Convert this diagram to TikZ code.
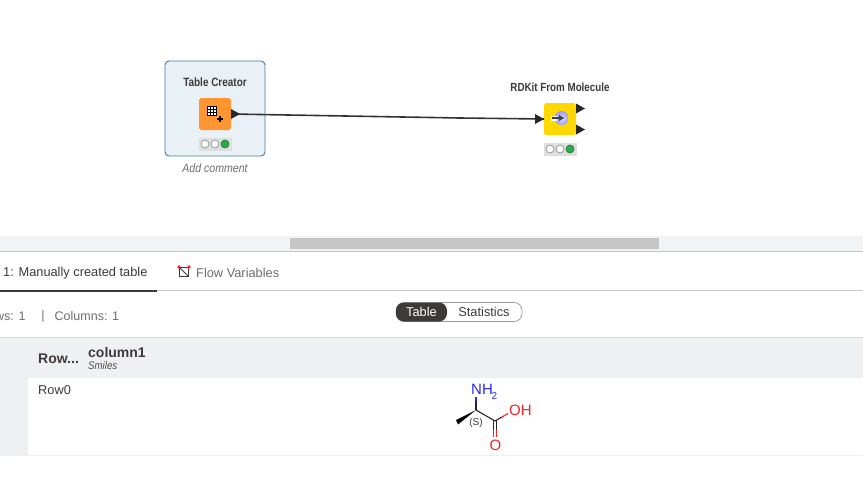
\documentclass[tikz,border=0pt]{standalone}
\usepackage{fontspec}
\setmainfont{Liberation Sans}
\newfontface\condbold[FakeStretch=0.83]{Liberation Sans Bold}
\newfontface\condital[FakeStretch=0.88]{Liberation Sans Italic}
\definecolor{txt}{HTML}{3E3A39}
\definecolor{graytxt}{HTML}{6E6E6E}
\definecolor{bandgray}{HTML}{EFF0F2}
\definecolor{rulegray}{HTML}{C6C6C6}
\definecolor{selfill}{HTML}{E9F1F6}
\definecolor{selline}{HTML}{3F7FA8}
\definecolor{nodeorange}{HTML}{FF9632}
\definecolor{nodeyellow}{HTML}{FFD800}
\definecolor{lightgreen}{HTML}{2EA84A}
\definecolor{tlbg}{HTML}{DDE0DF}
\definecolor{molblue}{HTML}{2A2AF0}
\definecolor{molred}{HTML}{F4222A}
\usetikzlibrary{arrows.meta}
\tikzset{
  title/.style={font=\condbold\fontsize{12}{14}\selectfont,text=txt,inner sep=0pt},
  uilabel/.style={font=\fontsize{12.8}{15}\selectfont,text=txt,inner sep=0pt},
  graylabel/.style={font=\fontsize{12.8}{15}\selectfont,text=graytxt,inner sep=0pt},
  countlabel/.style={font=\fontsize{12.5}{15}\selectfont,text=graytxt,inner sep=0pt},
  nodebody/.style={rounded corners=2.5pt,minimum width=32pt,minimum height=32pt,inner sep=0pt,draw=none},
  tlbox/.style={fill=tlbg,minimum width=33pt,minimum height=13pt,inner sep=0pt,draw=none},
  lamp/.style={circle,draw=gray!80,line width=.8pt,minimum size=8pt,inner sep=0pt,fill=white},
  port/.style={fill=black!85,draw=none},
  bond/.style={line width=1.1pt,draw=black!85},
  atom/.style={font=\fontsize{15}{16}\selectfont,inner sep=0pt},
}
\newcommand{\lights}[2]{%
  \node[tlbox] (#1) at (#2) {};
  \node[lamp] (#1a) at ([xshift=-10pt]#1.center) {};
  \node[lamp] (#1b) at (#1.center) {};
  \node[lamp,fill=lightgreen,draw=lightgreen!80!black] (#1c) at ([xshift=10pt]#1.center) {};
}
\begin{document}
\begin{tikzpicture}[x=1pt,y=-1pt]
\useasboundingbox (0,0) rectangle (863,501);
\fill[white] (0,0) rectangle (863,501);

% selected node frame
\node[draw=selline,fill=selfill,line width=.9pt,rounded corners=4pt,minimum width=100pt,minimum height=95pt,inner sep=0pt] (frame) at (215,108.5) {};
\node[title] (t1) at (215,82) {Table Creator};
\node[nodebody,fill=nodeorange] (tc) at (215,114) {};
\node[draw=black,fill=white,line width=.7pt,minimum size=9.5pt,inner sep=0pt] (grid) at (212,111) {};
\foreach \d in {-1.6,1.6}{
  \draw[black,line width=.8pt] ([xshift=\d pt,yshift=-4.75pt]grid.center) -- ([xshift=\d pt,yshift=4.75pt]grid.center);
  \draw[black,line width=.8pt] ([xshift=-4.75pt,yshift=\d pt]grid.center) -- ([xshift=4.75pt,yshift=\d pt]grid.center);
}
\draw[black,line width=1.7pt] (217,119) -- (223,119) (220,116) -- (220,122);
\lights{tl1}{215,144}
\node[font=\condital\fontsize{12}{14}\selectfont,text=graytxt,inner sep=0pt] (cmt) at (215,168) {Add comment};

% second node
\node[title,font=\condbold\fontsize{11.8}{14}\selectfont] (t2) at (560,87) {RDKit From Molecule};
\node[nodebody,fill=nodeyellow] (rd) at (560,119) {};
\shade[inner color=blue!12!white,outer color=blue!40!white] (561.7,118) circle (7pt);
\fill[white] (551,115.5) rectangle (557,120.5);
\draw[black!75,line width=1.7pt,-{Latex[length=5.5pt,width=7pt]}] (552,118) -- (564.5,118);
\lights{tl2}{560,149}

% ports
\coordinate (outp) at (231,114);
\coordinate (inp) at (544,119);
\draw[black!80,line width=1.6pt] (outp) -- (460,118) -- (inp);
\fill[port] (outp) ++(0,-5) -- ++(9,5) -- ++(-9,5) -- cycle;
\fill[port] (576,103.5) -- ++(9,5) -- ++(-9,5) -- cycle;
\fill[port] (576,124.5) -- ++(9,5) -- ++(-9,5) -- cycle;
\fill[port] (535,114) -- ++(9,5) -- ++(-9,5) -- cycle;

% scroll bar
\fill[bandgray!80!white] (0,236) rectangle (863,250.5);
\fill[rulegray] (290,238) rectangle (659,249);
\draw[rulegray,line width=1pt] (0,251) -- (863,251);

% tabs
\node[uilabel,anchor=west] (tab1) at (3,273) {1: Manually created table};
\draw[rulegray,line width=1pt] (0,290.5) -- (863,290.5);
\fill[txt] (0,289.5) rectangle (157,292);
\node[graylabel,anchor=west] (tab2) at (196,273) {Flow Variables};
\draw[txt,line width=.9pt] (179.5,267.5) -- (188.5,267.5) -- (188.5,276.5) -- (179.5,276.5) -- cycle (179.5,267.5) -- (188.5,276.5);
\fill[molred] (179,267) circle (1.9pt) (189,267) circle (1.9pt);

% counts
\node[countlabel,anchor=west] (rows) at (-5,316.5) {ws: 1};
\node[countlabel] (sep) at (43,316.5) {|};
\node[countlabel,anchor=west] (cols) at (54.5,316.5) {Columns: 1};

% toggle
\node[draw=gray!80,fill=white,rounded corners=8pt,minimum width=126pt,minimum height=19pt,inner sep=0pt,line width=.7pt] (toggle) at (459,312) {};
\fill[txt,rounded corners=8pt] (396,302.5) rectangle (447,321.5);
\node[font=\fontsize{12.8}{15}\selectfont,text=white,inner sep=0pt] (tbl) at (421.5,312) {Table};
\node[uilabel] (stat) at (484,312) {Statistics};

% table
\fill[bandgray] (0,337) rectangle (863,378);
\draw[rulegray!70!white,line width=.7pt] (0,337) -- (863,337);
\fill[bandgray] (0,378) rectangle (28,455);
\draw[bandgray,line width=1.8pt] (0,455.5) -- (863,455.5);
\node[font=\bfseries\fontsize{14}{16}\selectfont,text=txt,inner sep=0pt,anchor=west] (rowh) at (38,358.5) {Row...};
\node[font=\bfseries\fontsize{14}{16}\selectfont,text=txt,inner sep=0pt,anchor=west] (colh) at (88,352) {column1};
\node[font=\condital\fontsize{11}{13}\selectfont,text=graytxt!70!black,inner sep=0pt,anchor=west] (smi) at (88,365.5) {Smiles};
\node[uilabel,anchor=west] (row0) at (38,390) {Row0};

% molecule
\node[atom,text=molblue,anchor=west] (nh) at (471,389) {NH};
\node[font=\fontsize{10}{10}\selectfont,text=molblue,inner sep=0pt] (sub2) at (494.5,396) {2};
\node[atom,text=molred,anchor=west] (oh) at (509,410.5) {OH};
\node[atom,text=molred] (oo) at (495.5,445) {O};
\node[font=\fontsize{10}{11}\selectfont,text=txt,inner sep=0pt] (st) at (476,422.5) {(S)};
\coordinate (ca) at (476,410);
\coordinate (cc) at (495,421);
\fill[black] (ca) -- (456,420) -- (458,424.5) -- cycle;
\draw[bond] (ca) -- (476,401);
\draw[molblue,line width=1.1pt] (476,401) -- (476,396.5);
\draw[bond] (ca) -- (cc) -- (502,417);
\draw[molred,line width=1.1pt] (502,417) -- (508,413.5);
\draw[bond] (493.6,421) -- (493.6,430) (496.8,421) -- (496.8,430);
\draw[molred,line width=1.1pt] (493.6,430) -- (493.6,437) (496.8,430) -- (496.8,437);
\end{tikzpicture}
\end{document}
